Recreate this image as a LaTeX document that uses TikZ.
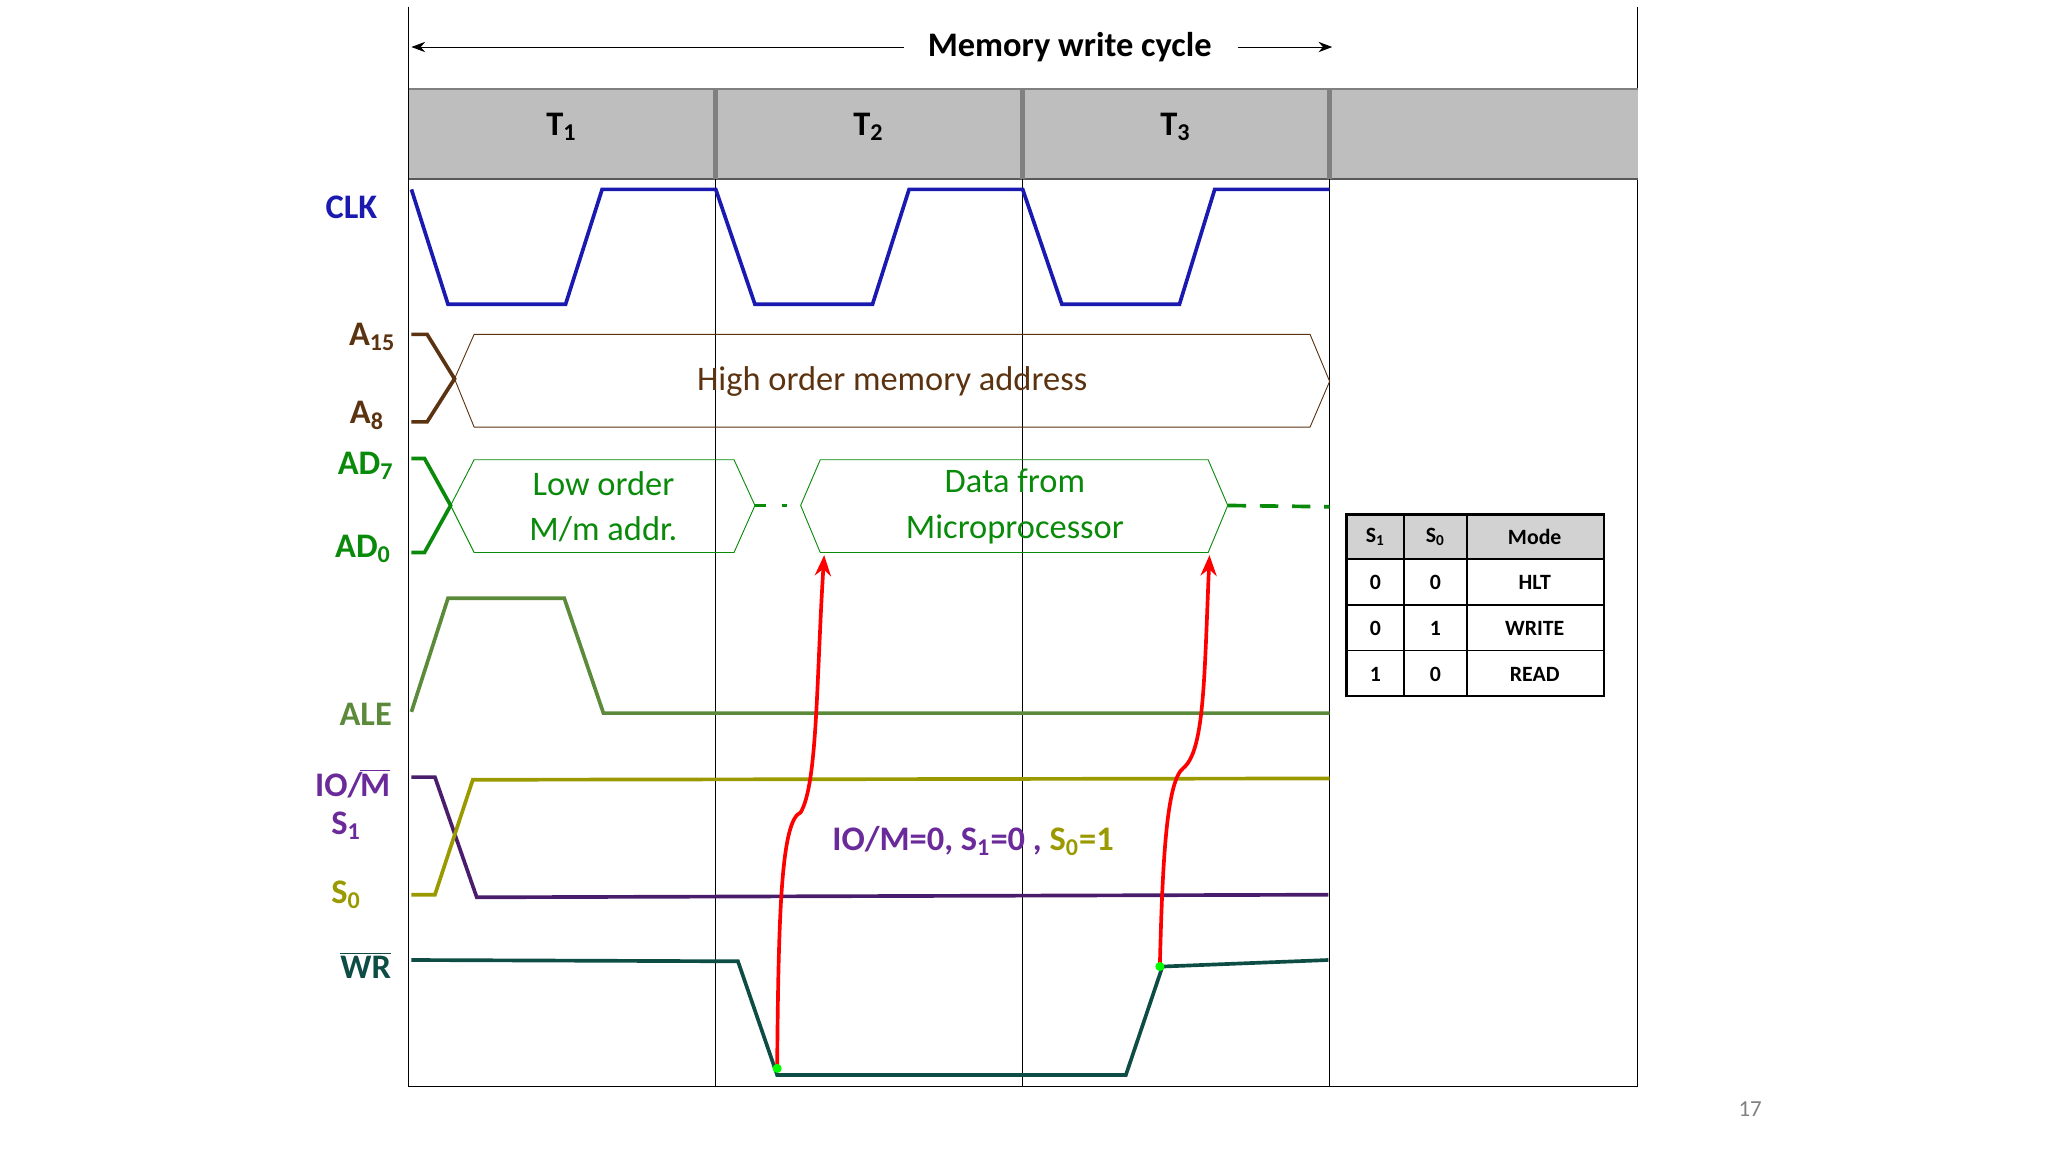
\documentclass[tikz,border=0pt]{standalone}
\usepackage{fontspec}
\setmainfont{Carlito}
\usetikzlibrary{arrows.meta}
\newcommand{\mysub}[1]{\textsubscript{#1}}
\definecolor{clk}{HTML}{1A1AB0}
\definecolor{addr}{HTML}{5C3310}
\definecolor{ad}{HTML}{0A8A0A}
\definecolor{ale}{HTML}{5A8A3A}
\definecolor{iom}{HTML}{6A2A9A}
\definecolor{szero}{HTML}{9A9A00}
\definecolor{wr}{HTML}{0D4D45}
\definecolor{hdr}{HTML}{BEBEBE}
\begin{document}
\begin{tikzpicture}[x=0.02cm,y=-0.02cm,
  lbl/.style={font=\fontsize{15}{17}\selectfont\bfseries,anchor=center},
  bus/.style={font=\fontsize{15}{20}\selectfont,align=center},
  sig/.style={line width=1.6pt},
  tb/.style={font=\fontsize{9.5}{11}\selectfont\bfseries}]
\useasboundingbox (0,0) rectangle (1568,882);
% frame
\draw[thin] (313,5) -- (313,832) -- (1254,832) -- (1254,5);
\fill[hdr] (313,68) rectangle (1254,137);
\draw[gray,line width=1pt] (313,68) -- (1254,68);
\draw[gray!70!black,line width=1pt] (313,137) -- (1254,137);
\foreach \x in {548,783,1018}{\draw[gray,line width=2pt] (\x,68)--(\x,137); \draw (\x,137)--(\x,832);}
\node[lbl] (t1) at (430,97) {T\mysub{1}};
\node[lbl] (t2) at (665,97) {T\mysub{2}};
\node[lbl] (t3) at (900,97) {T\mysub{3}};
\node[lbl] (mwc) at (819,36) {Memory write cycle};
\coordinate (al) at (315,36); \coordinate (ar) at (1020,36);
\draw[-{Stealth[length=6pt]}] (mwc.west) ++(-12,0) -- (al);
\draw[-{Stealth[length=6pt]}] (mwc.east) ++(14,0) -- (ar);
% left labels
\node[lbl,text=clk] (lclk) at (269,159) {CLK};
\node[lbl,text=addr] (la15) at (285,258) {A\mysub{15}};
\node[lbl,text=addr] (la8) at (281,318) {A\mysub{8}};
\node[lbl,text=ad] (lad7) at (280,357) {AD\mysub{7}};
\node[lbl,text=ad] (lad0) at (278,420) {AD\mysub{0}};
\node[lbl,text=ale] (lale) at (280,547) {ALE};
\node[lbl,text=iom] (liom) at (270,601) {IO/\kern-1pt\raisebox{0pt}[0pt][0pt]{$\overline{\mbox{\bfseries M}}$}};
\node[lbl,text=iom] (ls1) at (265,632) {S\mysub{1}};
\node[lbl,text=szero] (ls0) at (265,685) {S\mysub{0}};
\node[lbl,text=wr] (lwr) at (280,739) {$\overline{\mbox{\bfseries WR}}$};
% CLK
\draw[sig,clk] (315,145)--(343,233)--(433,233)--(461,145)--(548,145)--(578,233)--(668,233)--(696,145)--(783,145)--(813,233)--(903,233)--(930,145)--(1018,145);
% address high
\draw[sig,addr] (315,256)--(327,256)--(348,290)--(327,323)--(315,323);
\draw[addr] (348,290)--(363,256)--(1003,256)--(1018,292)--(1003,327)--(363,327)--cycle;
\node[bus,text=addr] (hi) at (683,292) {High order memory address};
% AD
\draw[sig,ad] (315,351)--(325,351)--(345,387)--(325,423)--(315,423);
\draw[ad] (345,387)--(363,352)--(562,352)--(578,387)--(562,423)--(363,423)--cycle;
\node[bus,text=ad] (lo) at (462,388) {Low order\\M/m addr.};
\draw[ad,line width=1.6pt,dash pattern=on 5pt off 7pt on 2pt off 20pt] (578,387)--(605,387);
\draw[ad] (613,387)--(628,352)--(925,352)--(940,387)--(925,423)--(628,423)--cycle;
\node[bus,text=ad] (data) at (777,388) {Data from\\Microprocessor};
\draw[ad,line width=1.6pt,dash pattern=on 8pt off 6pt] (940,387)--(1018,388);
% ALE
\draw[sig,ale] (315,545)--(343,458)--(432,458)--(462,546)--(1018,546);
% IO/M and S1
\draw[sig,iom!70!black] (315,595)--(333,595)--(365,687)--(1017,685);
% S0
\draw[sig,szero] (315,685)--(333,685)--(362,597)--(1018,596);
% WR
\draw[sig,wr] (315,735)--(565,736)--(595,823)--(862,823)--(890,740)--(1017,735);
% red arrows
\coordinate (r1) at (595,818); \coordinate (r1e) at (631,425);
\coordinate (r2) at (888,740); \coordinate (r2e) at (926,425);
\draw[red,line width=1.6pt,-{Stealth[length=9pt,width=7pt]}] (r1) .. controls (596,700) and (598,628) .. (613,622) .. controls (626,600) and (625,520) .. (r1e);
\draw[red,line width=1.6pt,-{Stealth[length=9pt,width=7pt]}] (r2) .. controls (890,660) and (893,598) .. (906,588) .. controls (922,575) and (922,520) .. (r2e);
\fill[green] (r1) circle (3.5);
\fill[green] (r2) circle (3.5);
\node[lbl] (eq) at (745,644) {\textcolor{iom}{IO/M=0, S\mysub{1}=0 ,} \textcolor{szero}{S\mysub{0}=1}};
% table
\fill[hdr!70] (1031,394) rectangle (1228,428);
\draw[line width=1pt] (1031,394) rectangle (1228,533);
\foreach \y in {428,463,498}{\draw[line width=0.8pt] (1031,\y)--(1228,\y);}
\foreach \x in {1075,1123}{\draw[line width=0.8pt] (\x,394)--(\x,533);}
\node[tb] (h1) at (1053,411) {S\mysub{1}};
\node[tb] (h2) at (1099,411) {S\mysub{0}};
\node[tb] (h3) at (1175,411) {Mode};
\node[tb] (a1) at (1053,446) {0}; \node[tb] (a2) at (1099,446) {0}; \node[tb] (a3) at (1175,446) {HLT};
\node[tb] (b1) at (1053,481) {0}; \node[tb] (b2) at (1099,481) {1}; \node[tb] (b3) at (1175,481) {WRITE};
\node[tb] (c1) at (1053,516) {1}; \node[tb] (c2) at (1099,516) {0}; \node[tb] (c3) at (1175,516) {READ};
\node[text=gray,font=\fontsize{10}{11}\selectfont] (pg) at (1340,849) {17};
\end{tikzpicture}
\end{document}
